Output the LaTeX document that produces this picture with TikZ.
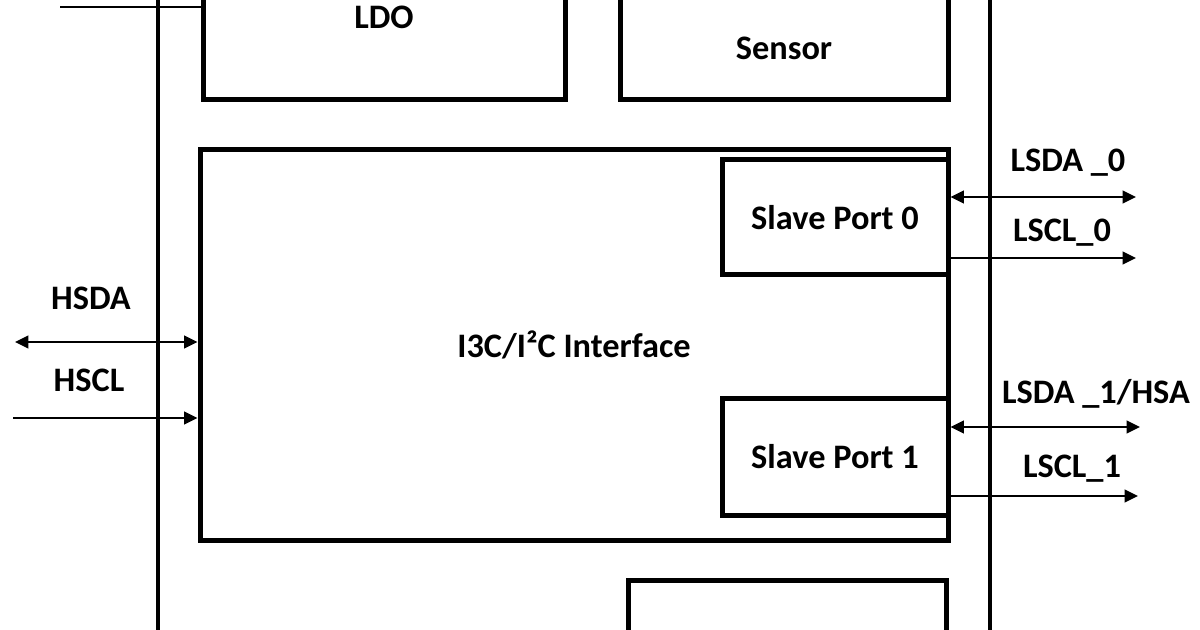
\documentclass[tikz,border=0pt]{standalone}
\usepackage{fontspec}
\setmainfont{Carlito}
\usetikzlibrary{arrows.meta}
\begin{document}
\begin{tikzpicture}[x=0.6pt,y=-0.6pt,
  box/.style={draw, line width=3pt, inner sep=0pt, font=\fontsize{20.6}{24}\selectfont\bfseries},
  txt/.style={inner sep=0pt, font=\fontsize{20.6}{24}\selectfont\bfseries},
  rail/.style={line width=2.3pt},
  sig/.style={line width=1.4pt},
  tip/.tip={Triangle[length=8pt,width=7.5pt]},
  one/.style={sig,-tip},
  both/.style={sig,tip-tip}]
\useasboundingbox (0,0) rectangle (1200,630);
\clip (0,0) rectangle (1200,630);
% outer rails
\coordinate (railLt) at (158,-20);
\coordinate (railLb) at (158,650);
\coordinate (railRt) at (990,-20);
\coordinate (railRb) at (990,650);
\draw[rail] (railLt) -- (railLb);
\draw[rail] (railRt) -- (railRb);
% boxes
\node[box, minimum width=217.2pt, minimum height=99.6pt] (LDO) at (384,17) {LDO};
\node[box, minimum width=196.8pt, minimum height=62.4pt] (Sensor) at (784,48) {Sensor};
\node[box, minimum width=448.8pt, minimum height=235.2pt] (I3C) at (574,345) {I3C/I²C Interface};
\node[box, minimum width=135.6pt, minimum height=69pt] (SP0) at (835,217.5) {Slave Port 0};
\node[box, minimum width=135.6pt, minimum height=70.2pt] (SP1) at (835,456.5) {Slave Port 1};
\node[box, minimum width=190.8pt, minimum height=72pt] (Bot) at (787,640) {};
% LDO input line
\coordinate (pwr) at (60,7);
\draw[sig] (pwr) -- (pwr -| LDO.west);
% left signals
\coordinate (hsda) at (15,342);
\coordinate (hscl) at (13,418);
\draw[both] (hsda) -- (hsda -| I3C.west);
\draw[one] (hscl) -- (hscl -| I3C.west);
\node[txt] (hsdalab) at (91,298) {HSDA};
\node[txt] (hscllab) at (89,380) {HSCL};
% right signals
\coordinate (lsda0) at (1136,197);
\coordinate (lscl0) at (1136,258);
\coordinate (lsda1) at (1140,427);
\coordinate (lscl1) at (1138,496);
\draw[both] (SP0.east |- lsda0) -- (lsda0);
\draw[one] (SP0.east |- lscl0) -- (lscl0);
\draw[both] (SP1.east |- lsda1) -- (lsda1);
\draw[one] (SP1.east |- lscl1) -- (lscl1);
\node[txt] (lsda0lab) at (1068,163) {LSDA \_0};
\node[txt] (lscl0lab) at (1062,233) {LSCL\_0};
\node[txt] (lsda1lab) at (1096,394) {LSDA \_1/HSA};
\node[txt] (lscl1lab) at (1072,469) {LSCL\_1};
\end{tikzpicture}
\end{document}
